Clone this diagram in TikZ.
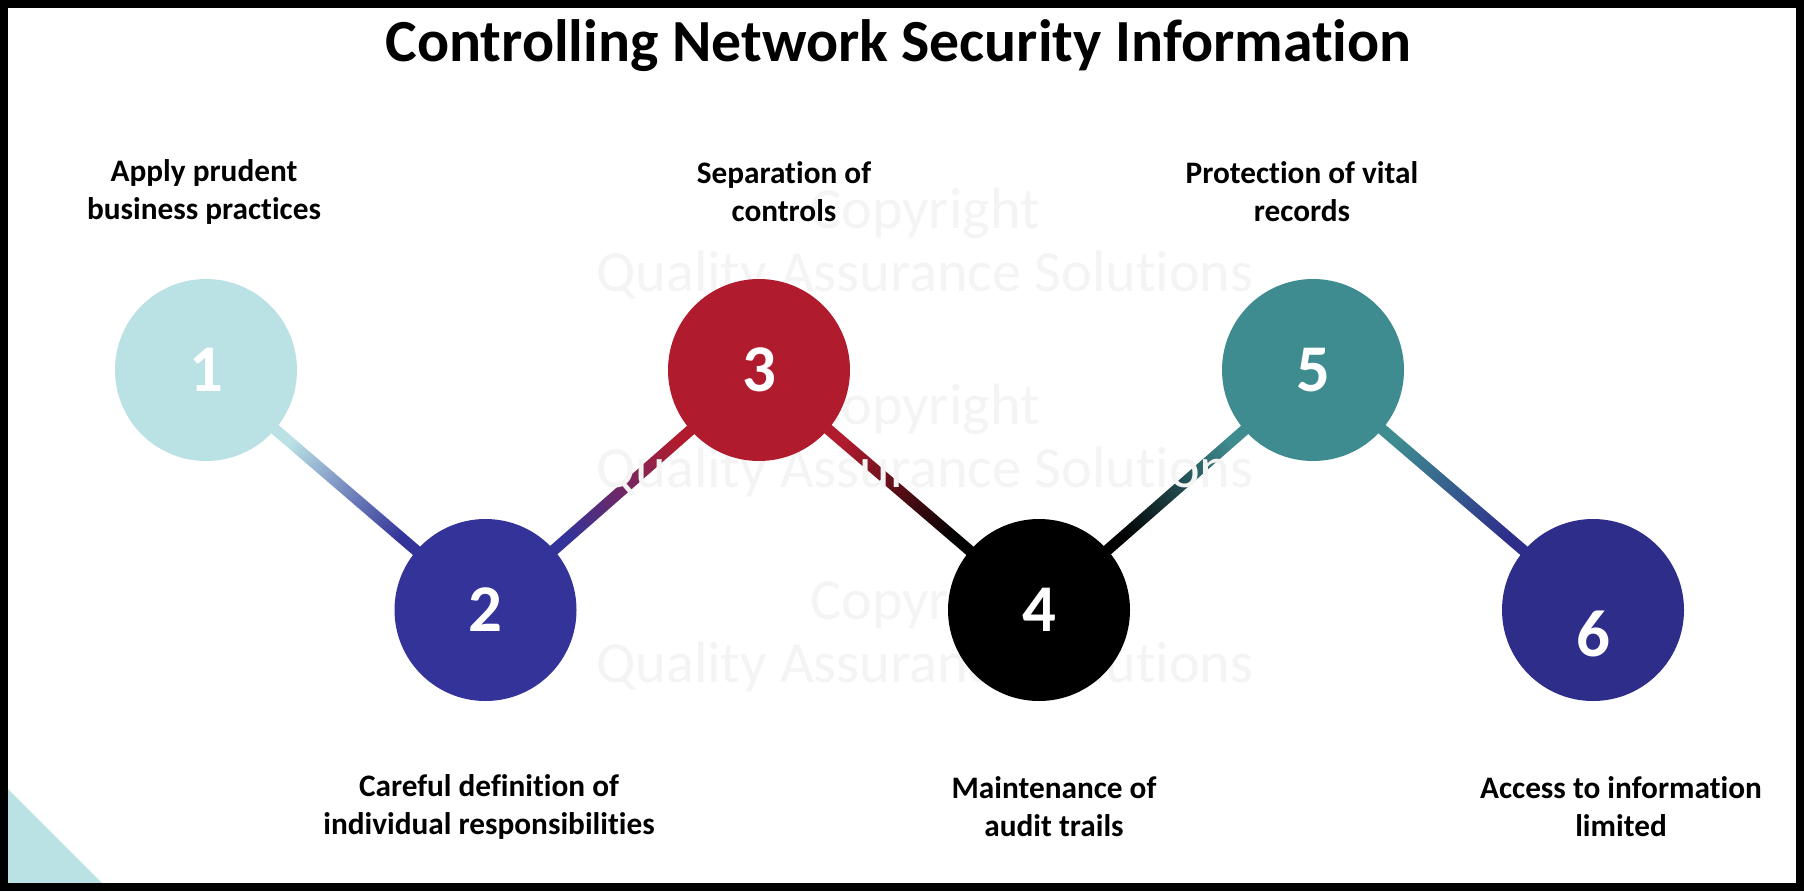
\documentclass[tikz,border=0pt]{standalone}
\usepackage{fontspec}
\setmainfont{Carlito}[Ligatures=NoCommon]
\usetikzlibrary{positioning,calc}
\definecolor{tealLight}{HTML}{BAE1E4}
\definecolor{indigoBlue}{HTML}{333399}
\definecolor{crimsonRed}{HTML}{B01C2E}
\definecolor{inkBlack}{HTML}{000000}
\definecolor{tealDeep}{HTML}{3E8B90}
\definecolor{navyDeep}{HTML}{2E2D8A}
\definecolor{markGray}{HTML}{F4F4F4}
\pgfdeclarelayer{background}
\pgfsetlayers{background,main}
\tikzset{
    dot/.style={circle,minimum size=1.82cm,inner sep=0pt,text=white,
        font=\fontsize{19}{22}\selectfont\bfseries},
    numtext/.style={inner sep=0pt,text=white,font=\fontsize{19}{22}\selectfont\bfseries},
    steplabel/.style={align=center,inner sep=0pt,font=\fontsize{8.9}{10.8}\selectfont\bfseries},
    watermark/.style={align=center,inner sep=0pt,text=markGray,
        font=\fontsize{16.6}{17.9}\selectfont},
    frame/.style={draw=black,line width=0.078cm}
}
\begin{document}
\begin{tikzpicture}
    \useasboundingbox (0,0) rectangle (18.04,8.91);

    \node[font=\fontsize{17}{20}\selectfont\bfseries] (title) at (8.985,8.45)
        {Controlling Network Security Information};

    % watermark
    \node[watermark] (wm1) at (9.25,6.465) {Copyright\\Quality Assurance Solutions};
    \node[watermark] (wm2) at (9.25,4.51) {Copyright\\Quality Assurance Solutions};
    \node[watermark] (wm3) at (9.25,2.555) {Copyright\\Quality Assurance Solutions};

    % steps
    \node[dot,fill=tealLight] (c1) at (2.06,5.21) {1};
    \node[dot,fill=indigoBlue] (c2) at (4.855,2.81) {2};
    \node[dot,fill=crimsonRed] (c3) at (7.59,5.21) {3};
    \node[dot,fill=inkBlack] (c4) at (10.39,2.81) {4};
    \node[dot,fill=tealDeep] (c5) at (13.13,5.21) {5};
    \node[dot,fill=navyDeep] (c6) at (15.93,2.81) {};
    \node[numtext] (n6) at ([yshift=-0.24cm]c6.center) {6};

    \begin{pgfonlayer}{background}
        \fill[white] (0,0) rectangle (18.04,8.91);
        \fill[tealLight] (0,0) -- (0,1.10) -- (1.10,0) -- cycle;
        % links, shaded only between the circle rims
        \foreach \a/\b/\ca/\cb/\ang in {c1/c2/tealLight/indigoBlue/49.4,
                c2/c3/indigoBlue/crimsonRed/131.3,
                c3/c4/crimsonRed/inkBlack/49.4,
                c4/c5/inkBlack/tealDeep/131.2,
                c5/c6/tealDeep/navyDeep/49.4}
            \shade[left color=\ca,right color=\cb,shading angle=\ang]
                let \p1=($(\a)!0.86cm!(\b)$), \p2=($(\b)!0.86cm!(\a)$) in
                ($(\p1)!0.055cm!90:(\p2)$) -- ($(\p1)!0.055cm!-90:(\p2)$)
                -- ($(\p2)!0.055cm!90:(\p1)$) -- ($(\p2)!0.055cm!-90:(\p1)$) -- cycle;
    \end{pgfonlayer}

    \node[steplabel] (t1) at (2.04,6.99) {Apply prudent\\business practices};
    \node[steplabel] (t3) at (7.84,6.99) {Separation of\\controls};
    \node[steplabel] (t5) at (13.02,6.99) {Protection of vital\\records};
    \node[steplabel] (t2) at (4.89,0.84) {Careful definition of\\individual responsibilities};
    \node[steplabel] (t4) at (10.54,0.84) {Maintenance of\\audit trails};
    \node[steplabel] (t6) at (16.21,0.84) {Access to information\\limited};

    \draw[frame] (0.039,0.039) rectangle (18.001,8.871);
\end{tikzpicture}
\end{document}
